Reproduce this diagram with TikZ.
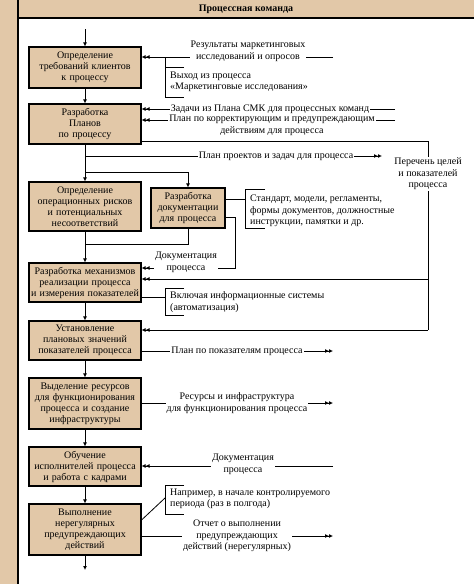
\documentclass[tikz,border=0pt]{standalone}
\usepackage{fontspec}
\setmainfont{Liberation Serif}
\usetikzlibrary{arrows.meta}
\definecolor{beige}{RGB}{226,200,168}

\begin{document}
\begin{tikzpicture}[x=1pt, y=-1pt,
  box/.style={draw, line width=1.1pt, fill=beige, align=center,
    minimum width=112pt, text width=111pt, inner xsep=0.5pt, inner ysep=1pt,
    font=\fontsize{10}{11}\selectfont},
  note/.style={align=left, inner sep=1pt, font=\fontsize{10}{11.5}\selectfont},
  lbl/.style={fill=white, align=center, inner sep=1pt, font=\fontsize{10}{11.5}\selectfont},
  con/.style={line width=0.8pt},
  arr/.style={con, -{Latex[length=4pt,width=4pt]}},
  dblarr/.style={con, -{Latex[length=4pt,width=4pt]Latex[length=4pt,width=4pt]}}]
  \useasboundingbox (0,0) rectangle (474,584);
  % Frame: left strip and header.
  \fill[beige] (0,0) rectangle (18,584);
  \fill[beige] (18,0) rectangle (474,18);
  \draw[line width=1.2pt] (18,0) -- (18,584);
  \draw[line width=1.2pt] (18,18) -- (474,18);
  \node[font=\bfseries\fontsize{10}{11}\selectfont] (team) at (246,9) {Процессная команда};
  % Process steps.
  \node[box, minimum height=41pt] (req) at (85,67.5) {Определение\\требований клиентов\\к процессу};
  \node[box, minimum height=40pt] (plan) at (85,124) {Разработка\\Планов\\по процессу};
  \node[box, minimum height=49pt] (risk) at (85,206.5) {Определение\\операционных рисков\\и потенциальных\\несоответствий};
  \node[box, minimum width=74pt, text width=73pt, minimum height=40pt] (doc) at (188,208)
    {Разработка\\документации\\для процесса};
  \node[box, minimum height=39pt] (mech) at (85,282.5) {Разработка механизмов\\реализации процесса\\и измерения показателей};
  \node[box, minimum height=39pt] (target) at (85,340.5) {Установление\\плановых значений\\показателей процесса};
  \node[box, minimum height=51pt] (res) at (85,403.5) {Выделение ресурсов\\для функционирования\\процесса и создание\\инфраструктуры};
  \node[box, minimum height=39pt] (train) at (85,466.5) {Обучение\\исполнителей процесса\\и работа с кадрами};
  \node[box, minimum height=51pt] (act) at (85,529.5) {Выполнение\\нерегулярных\\предупреждающих\\действий};
  % Main flow.
  \coordinate (start) at (85,29);
  \coordinate (fin) at (85,570);
  \draw[arr] (start) -- (req);
  \draw[arr] (req) -- (plan);
  \draw[arr] (plan) -- (risk);
  \draw[arr] (risk) -- (mech);
  \draw[arr] (mech) -- (target);
  \draw[arr] (target) -- (res);
  \draw[arr] (res) -- (train);
  \draw[arr] (train) -- (act);
  \draw[arr] (act) -- (fin);
  % Branch to the documentation step and back.
  \coordinate (dbr) at (85,172);
  \coordinate (dj) at (85,244);
  \draw[arr] (dbr) -| (doc.north);
  \draw[con] (doc.south) |- (dj);
  % Inputs to the first step.
  \coordinate (mk) at (333,57);
  \draw[dblarr] (mk) -- (req.east |- mk);
  \node[lbl] (mktxt) at (248,51.5) {Результаты маркетинговых\\исследований и опросов};
  \draw[con] (184,67) -- (165,67) (165,57) -- (165,97) -- (184,97);
  \node[note, anchor=west] (exit) at (169,82) {Выход из процесса\\«Маркетинговые исследования»};
  % Inputs to the planning step.
  \coordinate (tasks) at (395,109);
  \coordinate (corr) at (395,120);
  \draw[dblarr] (tasks) -- (plan.east |- tasks);
  \draw[dblarr] (corr) -- (plan.east |- corr);
  \node[lbl] (taskstxt) at (270,109) {Задачи из Плана СМК для процессных команд};
  \node[lbl] (corrtxt) at (272,125.5) {План по корректирующим и предупреждающим\\действиям для процесса};
  % Project plan output.
  \coordinate (pj) at (85,156);
  \coordinate (pjend) at (382,156);
  \draw[dblarr] (pj) -- (pjend);
  \node[lbl] (pjtxt) at (276,156) {План проектов и задач для процесса};
  % Goals and indicators loop.
  \coordinate (g1) at (428,141);
  \coordinate (g2) at (428,279);
  \coordinate (g3) at (428,330);
  \draw[con] (plan.east |- g1) -- (g1) -- (g3);
  \draw[dblarr] (g2) -- (mech.east |- g2);
  \draw[dblarr] (g3) -- (target.east |- g3);
  \node[lbl] (goals) at (428,174) {Перечень целей\\и показателей\\процесса};
  % Documentation notes.
  \coordinate (stdbr) at (245,199);
  \draw[con] (doc.east |- stdbr) -- (stdbr);
  \draw[con] (265,189) -- (245,189) -- (245,228) -- (265,228);
  \node[note, anchor=west] (std) at (249,211) {Стандарт, модели, регламенты,\\формы документов, должностные\\инструкции, памятки и др.};
  \coordinate (dd1) at (235,217);
  \coordinate (dd2) at (235,268);
  \draw[dblarr] (doc.east |- dd1) -- (dd1) -- (dd2) -- (mech.east |- dd2);
  \node[lbl] (doctxt) at (186,262.5) {Документация\\процесса};
  % Information systems note.
  \coordinate (infbr) at (165,297);
  \draw[con] (mech.east |- infbr) -- (infbr);
  \draw[con] (184,288) -- (165,288) -- (165,315) -- (184,315);
  \node[note, anchor=west] (info) at (169,302) {Включая информационные системы\\(автоматизация)};
  % Outputs and inputs of the lower steps.
  \coordinate (pl) at (333,351);
  \draw[dblarr] (target.east |- pl) -- (pl);
  \node[lbl] (pltxt) at (237,351) {План по показателям процесса};
  \coordinate (rs) at (333,403);
  \draw[dblarr] (res.east |- rs) -- (rs);
  \node[lbl] (rstxt) at (237,403) {Ресурсы и инфраструктура\\для функционирования процесса};
  \coordinate (tr) at (333,466);
  \draw[dblarr] (tr) -- (train.east |- tr);
  \node[lbl] (trtxt) at (243,464.5) {Документация\\процесса};
  \coordinate (exbr) at (165,498);
  \coordinate (exlow) at (165,520);
  \draw[con] (act.east |- exlow) -- (exbr);
  \draw[con] (184,485) -- (165,485) -- (165,514) -- (184,514);
  \node[note, anchor=west] (period) at (169,499) {Например, в начале контролируемого\\периода (раз в полгода)};
  \coordinate (rp) at (333,536);
  \draw[dblarr] (act.east |- rp) -- (rp);
  \node[lbl] (rptxt) at (237,536) {Отчет о выполнении\\предупреждающих\\действий (нерегулярных)};
\end{tikzpicture}
\end{document}
